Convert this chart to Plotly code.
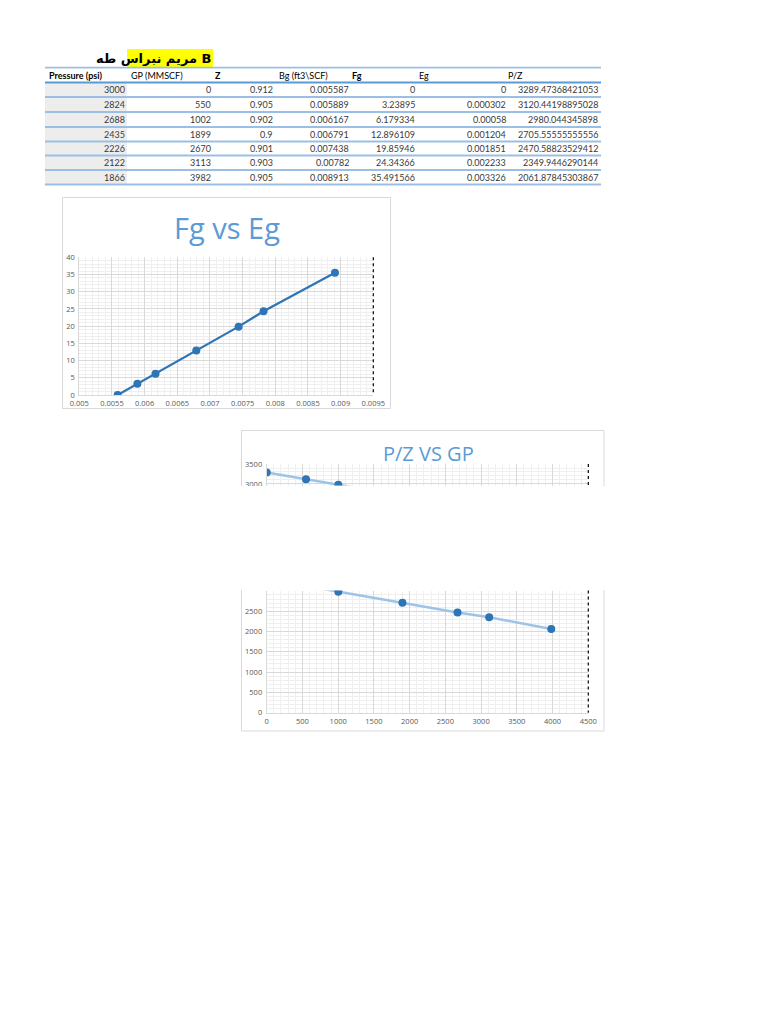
import plotly.graph_objects as go

W, H = 768, 1024
PAGE_OFFSET = 8  # body margin of the html page

# ---- data ----
HEADERS = ["Pressure (psi)", "GP (MMSCF)", "Z", "Bg (ft3\\SCF)", "Fg", "Eg", "P/Z"]
PRESSURE = ["3000", "2824", "2688", "2435", "2226", "2122", "1866"]
GP = ["0", "550", "1002", "1899", "2670", "3113", "3982"]
Z = ["0.912", "0.905", "0.902", "0.9", "0.901", "0.903", "0.905"]
BG = ["0.005587", "0.005889", "0.006167", "0.006791", "0.007438", "0.00782", "0.008913"]
FG = ["0", "3.23895", "6.179334", "12.896109", "19.85946", "24.34366", "35.491566"]
EG = ["0", "0.000302", "0.00058", "0.001204", "0.001851", "0.002233", "0.003326"]
PZ = ["3289.47368421053", "3120.44198895028", "2980.044345898", "2705.55555555556",
      "2470.58823529412", "2349.9446290144", "2061.87845303867"]

SHEET_TITLE = "مريم نبراس طه B"
CHART1_TITLE = "Fg vs Eg"
CHART2_TITLE = "P/Z VS GP"

BLUE = "#2E75B6"
LIGHT_BLUE = "#9DC3E6"
TITLE_BLUE = "#5B9BD5"
GRID = "#D9D9D9"
MINOR = "#EFEFEF"
TICK = "#595959"


def px(x):
    return (x - PAGE_OFFSET) / W


def py(y):
    return 1 - (y - PAGE_OFFSET) / H


def hline(x0, x1, y, color, width, dash="solid"):
    return dict(type="line", xref="paper", yref="paper", x0=px(x0), x1=px(x1),
                y0=py(y), y1=py(y), line=dict(color=color, width=width, dash=dash))


def vline(x, y0, y1, color, width, dash="solid"):
    return dict(type="line", xref="paper", yref="paper", x0=px(x), x1=px(x),
                y0=py(y0), y1=py(y1), line=dict(color=color, width=width, dash=dash))


def rect(x0, y0, x1, y1, fill, line_color=None, layer="below"):
    return dict(type="rect", xref="paper", yref="paper", x0=px(x0), x1=px(x1),
                y0=py(y1), y1=py(y0), fillcolor=fill, layer=layer,
                line=dict(width=1 if line_color else 0, color=line_color or fill))


shapes = []
annotations = []

# ---- spreadsheet block ----
shapes.append(rect(127, 49, 213, 67, "#FFFF00"))
annotations.append(dict(text="<b>" + SHEET_TITLE + "</b>", x=px(214), y=py(58),
                        xref="paper", yref="paper", xanchor="right", yanchor="middle",
                        showarrow=False, font=dict(family="DejaVu Sans", size=13, color="#000")))

row_lines = [67.7, 82.5, 97, 112, 127, 141.5, 155.5, 170, 184.5]
shapes.append(rect(45, 83, 127, 184, "#EDEDED"))
for i, y in enumerate(row_lines):
    color = TITLE_BLUE if i == 1 else "#9BBFE4"
    shapes.append(hline(45, 601, y, color, 2.2 if i == 1 else 1.8))

header_pos = [(46.5, "left"), (128.5, "left"), (217.5, "center"), (276.5, "left"),
              (357, "center"), (424, "center"), (515, "center")]
header_bold = [True, False, True, False, True, False, False]
for (hx, anchor), text, bold in zip(header_pos, HEADERS, header_bold):
    annotations.append(dict(text=f"<b>{text}</b>" if bold else text, x=px(hx),
                            y=py((row_lines[0] + row_lines[1]) / 2),
                            xref="paper", yref="paper", xanchor=anchor, yanchor="middle",
                            showarrow=False, font=dict(family="Lato", size=9, color="#000")))

col_right = [126.5, 213, 274.5, 351, 417, 507.5, 600]
columns = [PRESSURE, GP, Z, BG, FG, EG, PZ]
for cx, col in zip(col_right, columns):
    for r, val in enumerate(col):
        yc = (row_lines[r + 1] + row_lines[r + 2]) / 2
        annotations.append(dict(text=val, x=px(cx), y=py(yc), xref="paper", yref="paper",
                                xanchor="right", yanchor="middle", showarrow=False,
                                font=dict(family="Lato", size=9, color="#3A3A3A")))

# ---- chart boxes ----
shapes.append(rect(62.5, 197.5, 390.5, 408.5, "white", GRID))
shapes.append(rect(241.5, 430.5, 604, 731, "white", GRID))
shapes.append(rect(236, 486, 610, 590, "white", None, layer="above"))

annotations.append(dict(text=CHART1_TITLE, x=px(227), y=py(227), xref="paper", yref="paper",
                        xanchor="center", yanchor="middle", showarrow=False,
                        font=dict(family="Open Sans", size=29, color=TITLE_BLUE)))
annotations.append(dict(text=CHART2_TITLE, x=px(428), y=py(453), xref="paper", yref="paper",
                        xanchor="center", yanchor="middle", showarrow=False,
                        font=dict(family="Open Sans", size=20, color=TITLE_BLUE)))

# dashed right edges
shapes.append(vline(373.3, 257.3, 395, "#000", 1.2, "dot"))
shapes.append(vline(588.3, 464, 485.5, "#000", 1.2, "dot"))
shapes.append(vline(588.3, 590.5, 712.7, "#000", 1.2, "dot"))

bg_vals = [float(v) for v in BG]
fg_vals = [float(v) for v in FG]
gp_vals = [float(v) for v in GP]
pz_vals = [float(v) for v in PZ]

fig = go.Figure()
fig.add_trace(go.Scatter(x=bg_vals, y=fg_vals, mode="lines+markers", xaxis="x", yaxis="y",
                         line=dict(color=BLUE, width=2.2),
                         marker=dict(color=BLUE, size=8), showlegend=False))
for ax, ay in (("x2", "y2"), ("x3", "y3")):
    fig.add_trace(go.Scatter(x=gp_vals, y=pz_vals, mode="lines+markers", xaxis=ax, yaxis=ay,
                             line=dict(color=LIGHT_BLUE, width=2.5),
                             marker=dict(color=BLUE, size=8), showlegend=False))

tick_font = dict(family="Open Sans", size=7.5, color=TICK)
axis_common = dict(showgrid=True, gridcolor=GRID, gridwidth=1, zeroline=False,
                   showline=True, linecolor=GRID, ticks="", tickfont=tick_font,
                   automargin=False)

fig.update_layout(
    template="none",
    width=W, height=H,
    margin=dict(l=0, r=0, t=0, b=0, pad=0),
    paper_bgcolor="white", plot_bgcolor="white",
    shapes=shapes, annotations=annotations,
    xaxis=dict(domain=[px(79.3), px(373.3)], range=[0.005, 0.0095], dtick=0.0005,
               tickformat="~g", ticklabelstandoff=1, anchor="y",
               minor=dict(dtick=0.0001, showgrid=True, gridcolor=MINOR), **axis_common),
    yaxis=dict(domain=[py(395), py(257.3)], range=[0, 40], dtick=5, anchor="x",
               ticklabelstandoff=2,
               minor=dict(dtick=1, showgrid=True, gridcolor=MINOR), **axis_common),
    xaxis2=dict(domain=[px(266.7), px(588.3)], range=[0, 4500], dtick=500, anchor="y2",
                ticklabelstandoff=1,
                minor=dict(dtick=100, showgrid=True, gridcolor=MINOR), **axis_common),
    yaxis2=dict(domain=[py(712.7), py(590.5)], range=[0, 3010],
                tickvals=[0, 500, 1000, 1500, 2000, 2500], anchor="x2", ticklabelstandoff=2,
                minor=dict(dtick=100, showgrid=True, gridcolor=MINOR), **axis_common),
    xaxis3=dict(domain=[px(266.7), px(588.3)], range=[0, 4500], dtick=500, anchor="y3",
                matches="x2", showticklabels=False, automargin=False,
                minor=dict(dtick=100, showgrid=True, gridcolor=MINOR),
                showgrid=True, gridcolor=GRID, zeroline=False, showline=False, ticks=""),
    yaxis3=dict(domain=[py(485.5), py(464)], range=[2962, 3500],
                tickvals=[3000, 3500], anchor="x3", ticklabelstandoff=2,
                minor=dict(dtick=100, showgrid=True, gridcolor=MINOR), **axis_common),
)

fig.write_html("out.html")
